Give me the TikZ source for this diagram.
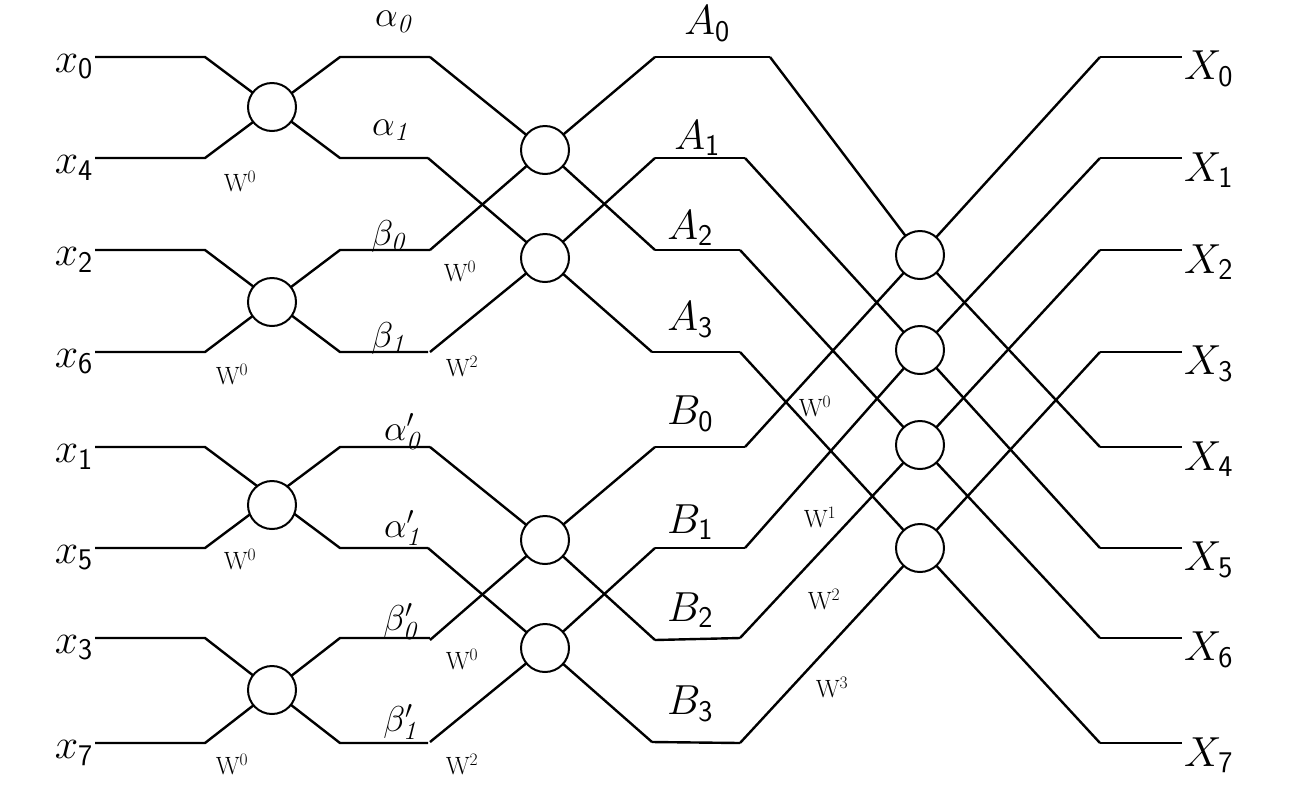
\documentclass[tikz,border=0pt]{standalone}
\usepackage{fix-cm}
\newcommand{\sbs}[1]{_{\mbox{\fontsize{30}{30}\selectfont\sffamily #1}}}
\newcommand{\sbi}[1]{_{\mbox{\fontsize{26}{26}\selectfont\itshape #1}}}
\begin{document}
\begin{tikzpicture}[x=1pt,y=-1pt,line width=2.4pt,
 bf/.style={circle,draw,fill=white,minimum size=48pt,inner sep=0pt,line width=2pt},
 lab/.style={font=\fontsize{42}{42}\selectfont},
 sl/.style={font=\fontsize{36}{36}\selectfont},
 w/.style={font=\fontsize{25}{25}\selectfont}]
\useasboundingbox (0,0) rectangle (1314,796);
% stage 1
\foreach \n/\ya/\yb/\yc in {a/57/158/107,b/250/352/302,c/447/548/505,d/638/743/690}{
 \coordinate (in\n1) at (205,\ya); \coordinate (in\n2) at (205,\yb);
 \coordinate (o\n1) at (340,\ya); \coordinate (o\n2) at (340,\yb);
 \draw (95,\ya) -- (in\n1) -- (o\n2) -- (428,\yb);
 \draw (95,\yb) -- (in\n2) -- (o\n1) -- (430,\ya);
 \node[bf] (c\n) at (272,\yc) {};
}
% stage 2
\foreach \n/\s in {u/0,l/390}{
 \coordinate (p0\n) at (430,57+\s); \coordinate (p1\n) at (428,158+\s);
 \coordinate (p2\n) at (430,250+\s); \coordinate (p3\n) at (430,352+\s);
 \coordinate (q0\n) at (655,57+\s); \coordinate (q1\n) at (655,158+\s);
 \coordinate (q2\n) at (655,250+\s); \coordinate (q3\n) at (652,352+\s);
 \draw (p0\n) -- (545,150+\s) -- (q2\n);
 \draw (p2\n) -- (545,150+\s) -- (q0\n);
 \draw (p1\n) -- (545,258+\s) -- (q3\n);
 \draw (p3\n) -- (545,258+\s) -- (q1\n);
 \node[bf] (d1\n) at (545,150+\s) {};
 \node[bf] (d2\n) at (545,258+\s) {};
}
% A/B horizontal lines
\draw (q0u) -- (770,57) coordinate (a0);
\draw (q1u) -- (745,158) coordinate (a1);
\draw (q2u) -- (740,250) coordinate (a2);
\draw (q3u) -- (740,352) coordinate (a3);
\draw (q0l) -- (745,447) coordinate (b0);
\draw (q1l) -- (745,548) coordinate (b1);
\draw (q2l) -- (740,638) coordinate (b2);
\draw (q3l) -- (740,743) coordinate (b3);
% outputs
\foreach \i/\y in {0/57,1/158,2/250,3/352,4/447,5/548,6/638,7/743}{
 \coordinate (X\i) at (1100,\y);
 \draw (X\i) -- (1182,\y);
 \node[lab,anchor=west,inner sep=1pt] at (1182,\y+12) {$X\sbs{\i}$};
}
\foreach \k/\y/\ta/\tb in {0/255/0/4,1/350/1/5,2/445/2/6,3/548/3/7}{
 \draw (a\k) -- (920,\y) -- (X\tb);
 \draw (b\k) -- (920,\y) -- (X\ta);
}
\foreach \k/\y in {0/255,1/350,2/445,3/548}{\node[bf] (e\k) at (920,\y) {};}
% input labels
\foreach \i/\y in {0/57,4/158,2/250,6/352,1/447,5/548,3/638,7/743}{
 \node[lab,anchor=east,inner sep=1pt] at (95,\y+10) {$x\sbs{\i}$};
}
% stage-1 output labels
\node[sl] at (393,22) {$\alpha\sbi{0}$};
\node[sl] at (390,130) {$\alpha\sbi{1}$};
\node[sl] at (388,236) {$\beta\sbi{0}$};
\node[sl] at (388,338) {$\beta\sbi{1}$};
\node[sl] at (402,432) {$\alpha'\sbi{0}$};
\node[sl] at (402,528) {$\alpha'\sbi{1}$};
\node[sl] at (400,622) {$\beta'\sbi{0}$};
\node[sl] at (400,722) {$\beta'\sbi{1}$};
% A B labels
\foreach \t/\s/\x/\y in {A/0/707/24,A/1/697/138,A/2/690/228,A/3/690/320,B/0/690/414,B/1/690/522,B/2/690/610,B/3/690/704}{
 \node[lab] at (\x,\y) {$\t\sbs{\s}$};
}
% twiddles
\foreach \e/\x/\y in {0/240/182,0/232/375,0/240/560,0/232/765,0/460/272,2/462/367,0/462/660,2/462/765,0/815/407,1/820/518,2/824/600,3/832/688}{
 \node[w] at (\x,\y) {W$^{\e}$};
}
\end{tikzpicture}
\end{document}
